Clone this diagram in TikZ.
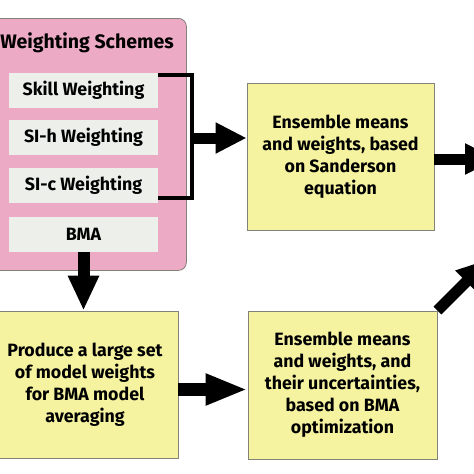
\documentclass[tikz,border=0pt]{standalone}
\usepackage{fontspec}
\setmainfont{Fira Sans}
\usetikzlibrary{arrows.meta}
\definecolor{pinkbg}{RGB}{236,170,196}
\definecolor{greybox}{RGB}{237,239,235}
\definecolor{yellowbg}{RGB}{245,243,160}
\definecolor{edgegrey}{RGB}{130,130,120}
\tikzset{
  txt/.style={font=\bfseries\fontsize{17.8}{22}\selectfont, align=center},
  pinkpanel/.style={draw=edgegrey, line width=0.8pt, fill=pinkbg, rounded corners=8pt, minimum width=196pt, minimum height=252pt, anchor=north west, inner sep=0pt},
  scheme/.style={fill=greybox, minimum width=149pt, minimum height=35pt, inner sep=0pt, txt},
  ybox/.style={draw=edgegrey, line width=0.8pt, fill=yellowbg, inner sep=0pt, txt},
  bigarrow/.style={line width=11pt, -{Triangle[length=#1,width=29pt]}},
  bigarrow/.default=32pt,
  bracket/.style={line width=4pt}
}
\begin{document}
\begin{tikzpicture}[x=1pt,y=-1pt]
\useasboundingbox (0,0) rectangle (474,474);
\clip (0,0) rectangle (474,474);
\node[pinkpanel] (panel) at (-10,18) {};
\node[txt, font=\bfseries\fontsize{19.5}{22}\selectfont] (title) at (87,43) {Weighting Schemes};
\node[scheme] (skill) at (83.5,90.5) {Skill Weighting};
\node[scheme] (sih) at (83.5,137.5) {SI-h Weighting};
\node[scheme] (sic) at (83.5,185) {SI-c Weighting};
\node[scheme] (bma) at (83.5,234) {BMA};
\node[ybox, minimum width=187pt, minimum height=147pt] (e1) at (340.5,156.5) {Ensemble means\\and weights, based\\on Sanderson\\equation};
\node[ybox, minimum width=186pt, minimum height=147pt] (p1) at (85,384.5) {Produce a large set\\of model weights\\for BMA model\\averaging};
\node[ybox, minimum width=189pt, minimum height=148pt] (e2) at (342.5,385) {Ensemble means\\and weights, and\\their uncertainties,\\based on BMA\\optimization};
\coordinate (bt) at (158,75);
\coordinate (bb) at (158,198);
\coordinate (bm) at (192,138);
\coordinate (outr) at (497,159);
\coordinate (outd) at (489,259);
\coordinate (mid) at (178,389.5);
\draw[bracket] (bt) -| (bm) |- (bb);
\draw[bigarrow=31pt] (bm) -- (bm -| e1.west);
\draw[bigarrow] (e1.east |- outr) -- (outr);
\draw[bigarrow=35pt, line width=12pt] (bma.south) -- (bma.south |- p1.north);
\draw[bigarrow=42pt, line width=13pt] (mid) -- (mid -| e2.west);
\draw[bigarrow] (e2.north east) -- (outd);
\end{tikzpicture}
\end{document}
